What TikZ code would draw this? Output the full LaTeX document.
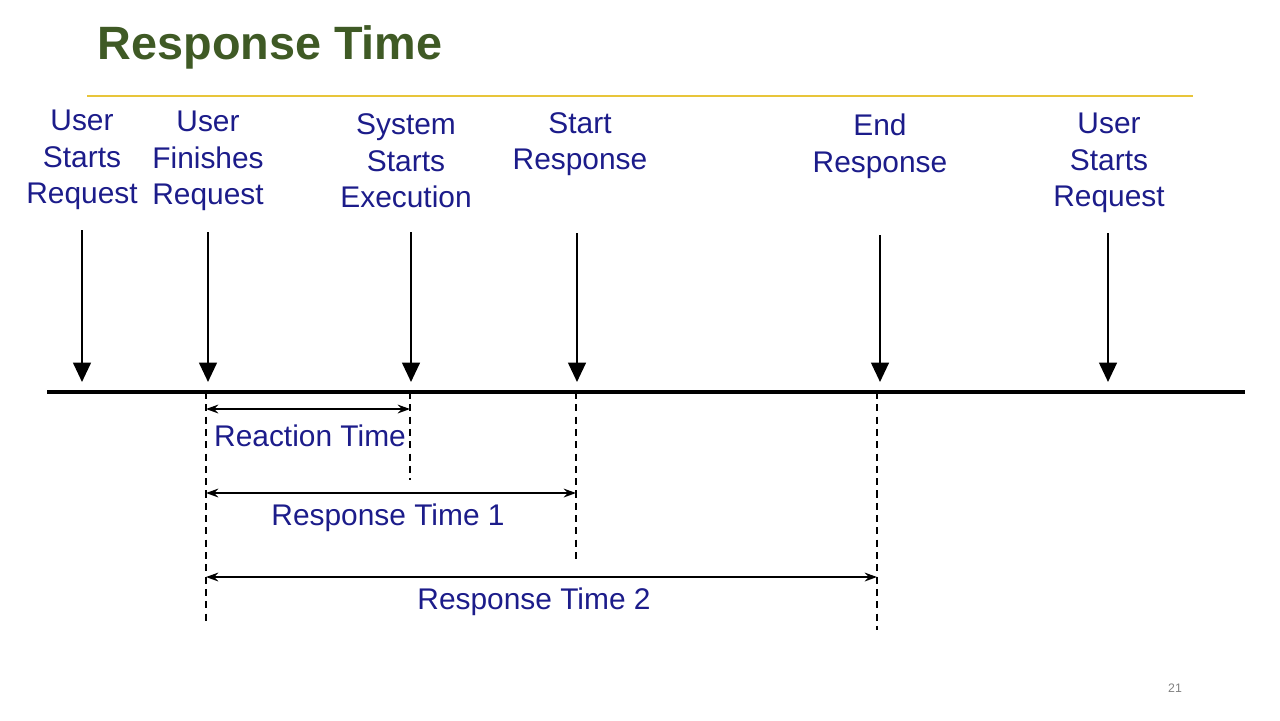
\documentclass[tikz,border=0pt]{standalone}
\usepackage{fontspec}
\setmainfont{Liberation Sans}
\usetikzlibrary{arrows.meta}
\definecolor{ttl}{HTML}{3F5A25}
\definecolor{lbl}{HTML}{1C1C8A}
\definecolor{gold}{HTML}{E8C53A}
\begin{document}
\begin{tikzpicture}[x=0.01cm,y=-0.01cm,
 lab/.style={text=lbl,font=\fontsize{8.5}{10.4}\selectfont,align=center},
 ev/.style={line width=0.7pt,-{Triangle[width=5pt,length=5.5pt]}},
 dsh/.style={dashed,line width=0.4pt,dash pattern=on 2pt off 1.5pt},
 span/.style={line width=0.5pt,{Stealth[length=3.5pt,width=2.5pt]}-{Stealth[length=3.5pt,width=2.5pt]}}]
\useasboundingbox (0,0) rectangle (1280,720);
\node[anchor=west,inner sep=0pt,text=ttl,font=\bfseries\fontsize{13.3}{15}\selectfont] (title) at (97,47) {Response Time};
\coordinate (g1) at (87,96); \coordinate (g2) at (1193,96);
\draw[gold,line width=0.6pt] (g1) -- (g2);
\coordinate (t1) at (47,392); \coordinate (t2) at (1245,392);
\draw[line width=0.9pt] (t1) -- (t2);
\foreach \n/\x/\y/\t in {a/82/160/{User\\Starts\\Request},b/208/161/{User\\Finishes\\Request},c/406/161/{System\\Starts\\Execution},d/580/144/{Start\\Response},e/880/146/{End\\Response},f/1109/163/{User\\Starts\\Request}}{
 \node[lab] (l\n) at (\x,\y) {\t};
}
\foreach \n/\x/\s in {a/82/230,b/208/232,c/411/232,d/577/233,e/880/235,f/1108/233}{
 \coordinate (s\n) at (\x,\s); \coordinate (e\n) at (\x,382);
 \draw[ev] (s\n) -- (e\n);
}
\foreach \n/\x/\e in {b/206/625,c/410/480,d/576/560,e/877/630}{
 \coordinate (p\n) at (\x,392); \coordinate (q\n) at (\x,\e);
 \draw[dsh] (p\n) -- (q\n);
}
\coordinate (r1) at (206,409); \coordinate (r2) at (410,409);
\draw[span] (r1) -- (r2);
\node[lab] (rt) at (310,436) {Reaction Time};
\coordinate (u1) at (206,493); \coordinate (u2) at (576,493);
\draw[span] (u1) -- (u2);
\node[lab] (rt1) at (388,518) {Response Time 1};
\coordinate (v1) at (206,577); \coordinate (v2) at (877,577);
\draw[span] (v1) -- (v2);
\node[lab] (rt2) at (534,602) {Response Time 2};
\node[text=gray,font=\fontsize{3.5}{4}\selectfont] (pg) at (1175,688) {21};
\end{tikzpicture}
\end{document}
